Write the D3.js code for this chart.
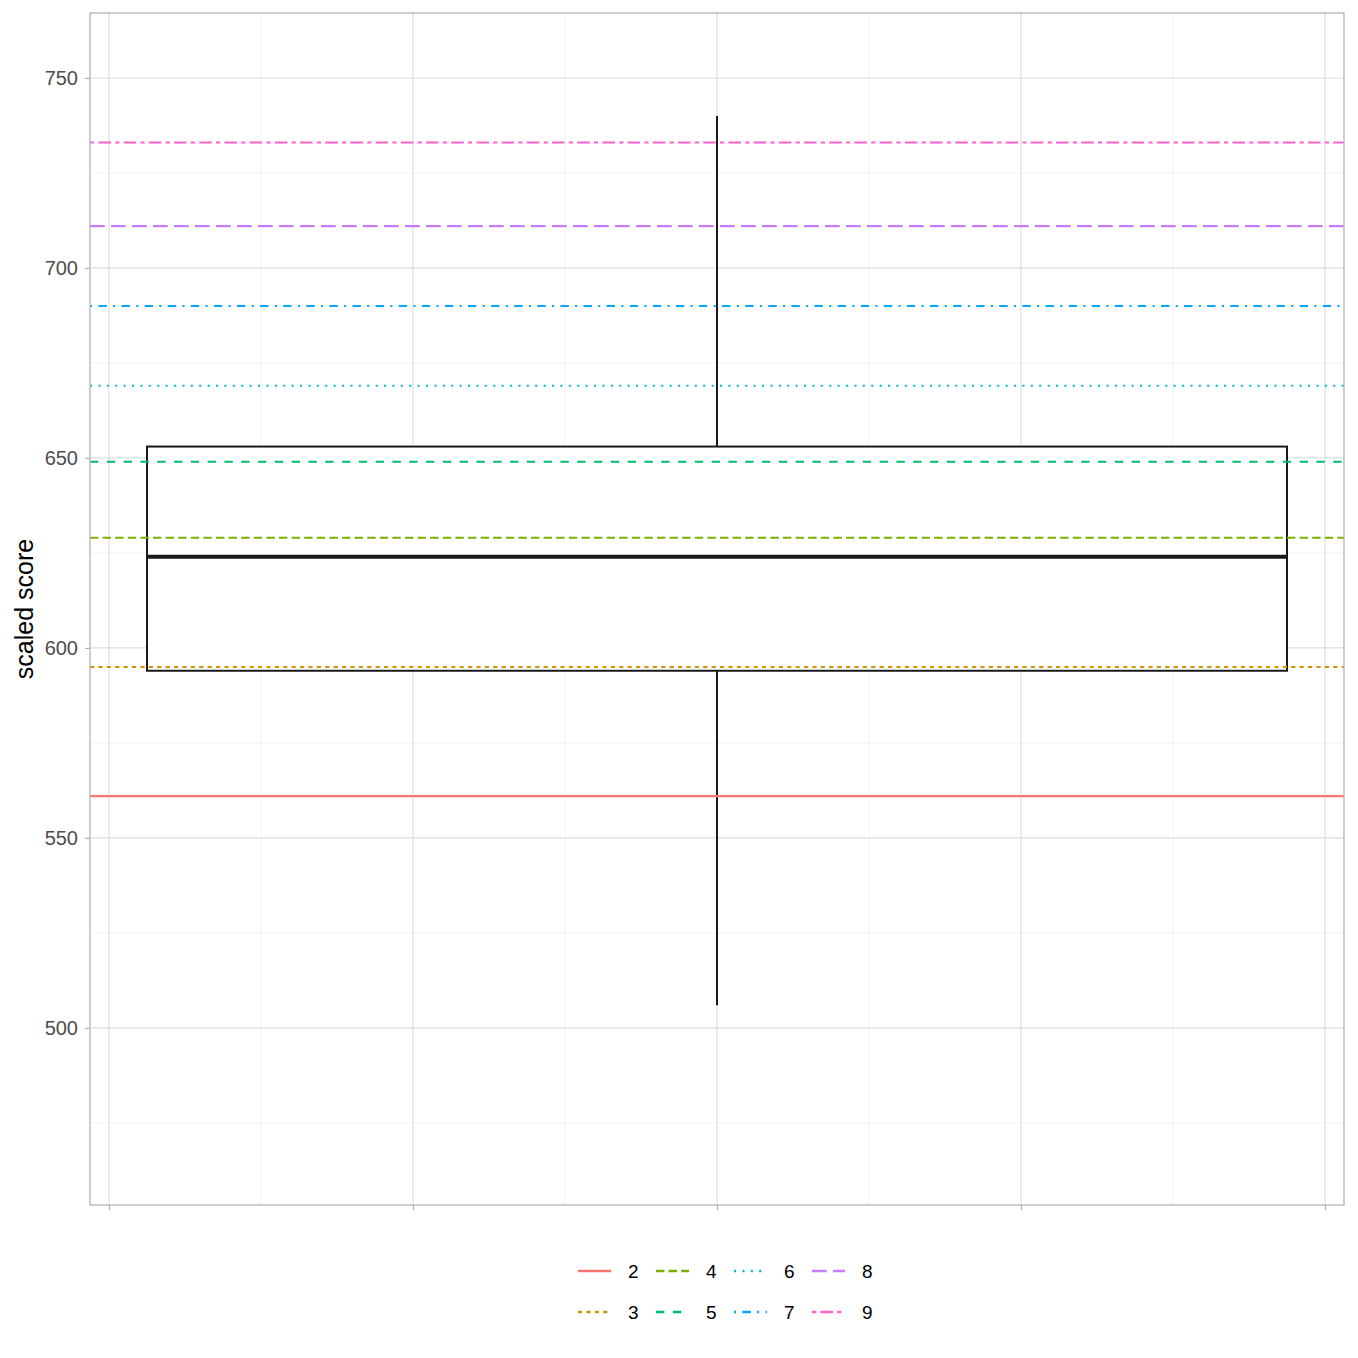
<!DOCTYPE html>
<html><head><meta charset="utf-8">
<script src="https://cdn.jsdelivr.net/npm/d3@7"></script>
<style>body{margin:0;background:#fff}svg{display:block}text{font-family:"Liberation Sans",Arial,sans-serif}</style>
</head><body><div id="chart"></div>
<script>
const grades = ["2","3","4","5","6","7","8","9"];
const cutScores = [561, 595, 629, 649, 669, 690, 711, 733];
const lineColors = ["#F8766D","#CD9600","#7CAE00","#00BE67","#00BFC4","#00A9FF","#C77CFF","#FF61CC"];
const lineDashes = ["", "22", "42", "44", "13", "1343", "73", "2262"];
const boxStats = {lower: 506, q1: 594, median: 624, q3: 653, upper: 740};
const yTicks = [500, 550, 600, 650, 700, 750];
const yMinor = [475, 525, 575, 625, 675, 725];
const xTicks = [-0.4, -0.2, 0, 0.2, 0.4];
const xMinor = [-0.3, -0.1, 0.1, 0.3];

const W = 1358, H = 1358;
const m = {left: 90, right: 14, top: 13, bottom: 153};
const pw = W - m.left - m.right, ph = H - m.top - m.bottom;
const svg = d3.select("#chart").append("svg").attr("width", W).attr("height", H);
const g = svg.append("g").attr("transform", `translate(${m.left},${m.top})`);

const x = d3.scaleLinear().domain([-0.4125, 0.4125]).range([0, pw]);
const y = d3.scaleLinear().domain([453.4, 767.1]).range([ph, 0]);

// grid
g.selectAll(".ymin").data(yMinor).join("line").attr("x1",0).attr("x2",pw)
 .attr("y1",d=>y(d)).attr("y2",d=>y(d)).attr("stroke","#EBEBEB").attr("stroke-width",0.6);
g.selectAll(".xmin").data(xMinor).join("line").attr("y1",0).attr("y2",ph)
 .attr("x1",d=>x(d)).attr("x2",d=>x(d)).attr("stroke","#EBEBEB").attr("stroke-width",0.6);
g.selectAll(".ymaj").data(yTicks).join("line").attr("x1",0).attr("x2",pw)
 .attr("y1",d=>y(d)).attr("y2",d=>y(d)).attr("stroke","#DEDEDE").attr("stroke-width",1.2);
g.selectAll(".xmaj").data(xTicks).join("line").attr("y1",0).attr("y2",ph)
 .attr("x1",d=>x(d)).attr("x2",d=>x(d)).attr("stroke","#DEDEDE").attr("stroke-width",1.2);

// boxplot
const bx = 0, hw = 0.375;
g.append("line").attr("x1",x(bx)).attr("x2",x(bx)).attr("y1",y(boxStats.q3)).attr("y2",y(boxStats.upper))
 .attr("stroke","#1a1a1a").attr("stroke-width",2);
g.append("line").attr("x1",x(bx)).attr("x2",x(bx)).attr("y1",y(boxStats.q1)).attr("y2",y(boxStats.lower))
 .attr("stroke","#1a1a1a").attr("stroke-width",2);
g.append("rect").attr("x",x(bx-hw)).attr("width",x(bx+hw)-x(bx-hw))
 .attr("y",y(boxStats.q3)).attr("height",y(boxStats.q1)-y(boxStats.q3))
 .attr("fill","#fff").attr("stroke","#1a1a1a").attr("stroke-width",2);
g.append("line").attr("x1",x(bx-hw)).attr("x2",x(bx+hw)).attr("y1",y(boxStats.median)).attr("y2",y(boxStats.median))
 .attr("stroke","#1a1a1a").attr("stroke-width",4);

// hlines
const unit = 2.1;
const dashArr = s => s ? s.split("").map(c => parseInt(c,16)*unit).join(",") : null;
g.selectAll(".hl").data(grades).join("line")
 .attr("x1",0).attr("x2",pw)
 .attr("y1",(d,i)=>y(cutScores[i])).attr("y2",(d,i)=>y(cutScores[i]))
 .attr("stroke",(d,i)=>lineColors[i]).attr("stroke-width",2.1)
 .attr("stroke-dasharray",(d,i)=>dashArr(lineDashes[i]));

// border
g.append("rect").attr("width",pw).attr("height",ph).attr("fill","none").attr("stroke","#B3B3B3").attr("stroke-width",1.3);

// axes
const ya = g.append("g").call(d3.axisLeft(y).tickValues(yTicks).tickSize(5).tickPadding(7));
ya.select(".domain").remove();
ya.selectAll(".tick line").attr("stroke","#B3B3B3").attr("stroke-width",1.2);
ya.selectAll(".tick text").attr("fill","#4D4D4D").style("font-size","20px");
const xa = g.append("g").attr("transform",`translate(0,${ph})`).call(d3.axisBottom(x).tickValues(xTicks).tickSize(5).tickFormat(""));
xa.select(".domain").remove();
xa.selectAll(".tick line").attr("stroke","#B3B3B3").attr("stroke-width",1.2);

svg.append("text").attr("transform",`translate(33,${m.top+ph/2}) rotate(-90)`).attr("text-anchor","middle")
 .style("font-size","25px").attr("fill","#000").text("scaled score");

// legend
const leg = svg.append("g");
grades.forEach((gr,i)=>{
  const col = Math.floor(i/2), row = i%2;
  const lx = 578 + col*78, ly = 1271 + row*41;
  leg.append("line").attr("x1",lx).attr("x2",lx+33).attr("y1",ly).attr("y2",ly)
    .attr("stroke",lineColors[i]).attr("stroke-width",2.4).attr("stroke-dasharray",dashArr(lineDashes[i]));
  leg.append("text").attr("x",lx+50).attr("y",ly).attr("dy","0.36em").attr("text-anchor","start")
    .style("font-size","19px").attr("fill","#000").text(gr);
});
</script></body></html>
